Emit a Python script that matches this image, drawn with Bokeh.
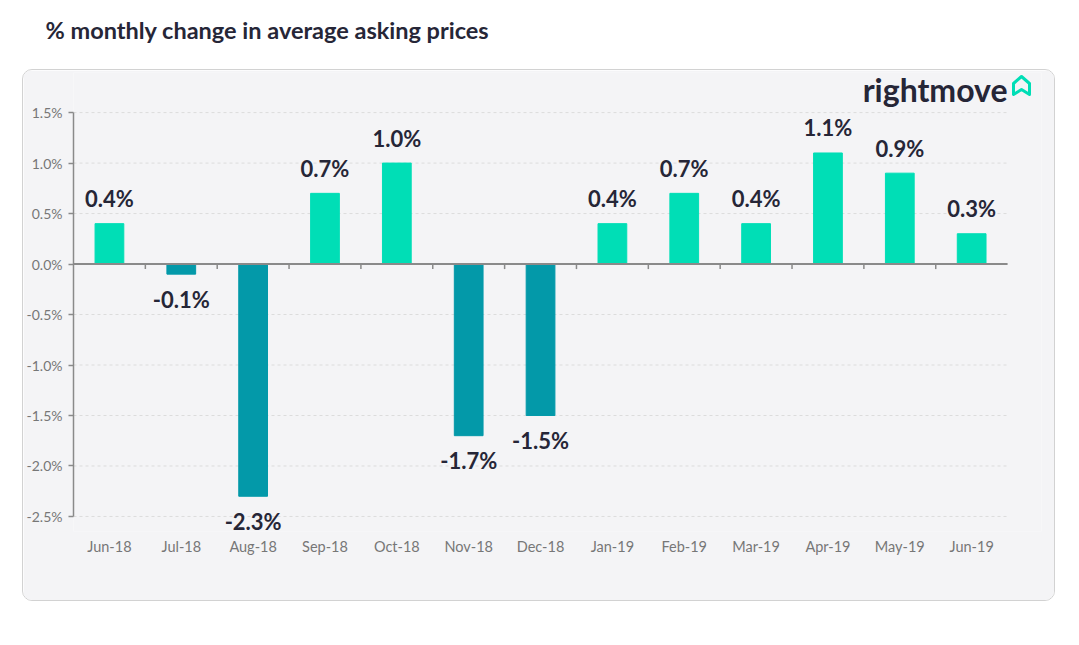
from bokeh.plotting import figure
from bokeh.layouts import column
from bokeh.models import (Range1d, FixedTicker, PrintfTickFormatter, Plot,
                          ColumnDataSource, LabelSet, Label, PolyAnnotation)
from bokeh.core.properties import value
from bokeh.embed import file_html
from bokeh.resources import INLINE

# ---- data ----
months = ["Jun-18", "Jul-18", "Aug-18", "Sep-18", "Oct-18", "Nov-18", "Dec-18",
          "Jan-19", "Feb-19", "Mar-19", "Apr-19", "May-19", "Jun-19"]
changes = [0.4, -0.1, -2.3, 0.7, 1.0, -1.7, -1.5, 0.4, 0.7, 0.4, 1.1, 0.9, 0.3]
y_ticks = [-2.5, -2.0, -1.5, -1.0, -0.5, 0.0, 0.5, 1.0, 1.5]
title_text = "% monthly change in average asking prices"
brand_text = "rightmove"

POS = "#00deb6"
NEG = "#0399a9"
DARK = "#262637"
GREY = "#8a8a8a"
CARD = "#f4f4f6"
FONT = "Lato"

n = len(months)
xs = list(range(n))
colors = [POS if v >= 0 else NEG for v in changes]
labels = [f"{v:.1f}%" for v in changes]
offsets = [25 if v >= 0 else -25 for v in changes]

src = ColumnDataSource(dict(x=xs, change=changes, color=colors,
                            label=labels, offset=offsets))

HAS_ALIGN = "frame_align" in Plot.properties()

# ---- title strip ----
t = figure(width=1063, height=69, x_range=Range1d(0, 1063), y_range=Range1d(0, 69),
           x_axis_location=None, y_axis_location=None, output_backend="svg",
           toolbar_location=None, min_border=0, min_border_left=0,
           min_border_right=0, min_border_top=0, min_border_bottom=0,
           outline_line_color=None,
           border_fill_color="white", background_fill_color="white")
t.xgrid.grid_line_color = None
t.ygrid.grid_line_color = None
if HAS_ALIGN:
    t.frame_align = False
t.add_layout(Label(x=45 if HAS_ALIGN else 0, y=40, x_units="screen", y_units="screen",
                   text=title_text, text_font=FONT, text_font_size="23.5px",
                   text_font_style="bold", text_color=DARK,
                   text_baseline="middle"))

# ---- card with chart ----
p = figure(width=1033, height=532, x_range=Range1d(-0.5, 12.972),
           y_range=Range1d(-2.649, 1.897), output_backend="svg",
           toolbar_location=None, min_border_left=50, min_border_right=15,
           min_border_top=2, min_border_bottom=71,
           border_fill_color=CARD, background_fill_color=CARD,
           outline_line_color=None, margin=(0, 0, 0, 22),
           styles={"border": "1px solid #d2d2d2", "border-radius": "10px",
                   "overflow": "hidden"})
if HAS_ALIGN:
    p.frame_align = False

p.xgrid.grid_line_color = None
p.ygrid.grid_line_color = None

# dashed gridlines across the category span
grid_y = [v for v in y_ticks if v != 0]
p.segment(x0=[-0.5] * len(grid_y), y0=grid_y, x1=[n - 0.5] * len(grid_y),
          y1=grid_y, line_color="#dcdcdc", line_width=1, line_dash="3 3")

p.vbar(x="x", top="change", width=0.4, color="color", source=src)

# zero line and category boundary ticks
p.segment(x0=[-0.5], y0=[0], x1=[n - 0.5], y1=[0], line_color=GREY, line_width=2)
bounds = [i + 0.5 for i in range(n - 1)]
p.segment(x0=bounds, y0=[0] * len(bounds), x1=bounds, y1=[-0.05] * len(bounds),
          line_color=GREY, line_width=1.5)

p.add_layout(LabelSet(x="x", y="change", text="label", y_offset="offset",
                      source=src, text_align="center", text_baseline="middle",
                      text_font=value(FONT), text_font_size="22px",
                      text_font_style="bold", text_color=DARK))

ya = p.yaxis[0]
ya.ticker = FixedTicker(ticks=y_ticks)
ya.formatter = PrintfTickFormatter(format="%.1f%%")
ya.bounds = (-2.5, 1.5)
ya.axis_line_color = GREY
ya.axis_line_width = 1.5
ya.major_tick_line_color = GREY
ya.major_tick_line_width = 1.5
ya.major_tick_out = 5
ya.major_tick_in = 0
ya.minor_tick_line_color = None
ya.major_label_standoff = 6
ya.major_label_text_color = "#777777"
ya.major_label_text_font = FONT
ya.major_label_text_font_size = "14px"

xa = p.xaxis[0]
xa.ticker = FixedTicker(ticks=xs)
xa.major_label_overrides = {i: m for i, m in zip(xs, months)}
xa.axis_line_color = None
xa.major_tick_line_color = None
xa.minor_tick_line_color = None
xa.major_tick_out = 0
xa.major_tick_in = 0
xa.major_label_standoff = 6
xa.major_label_text_color = "#777777"
xa.major_label_text_font = FONT
xa.major_label_text_font_size = "14.5px"

# brand
p.add_layout(Label(x=934, y=442, x_units="screen", y_units="screen",
                   text=brand_text, text_font=FONT, text_font_size="32px",
                   text_font_style="bold", text_color=DARK,
                   text_align="right", text_baseline="alphabetic"))
p.add_layout(PolyAnnotation(xs=[940, 940, 948, 956, 956, 948],
                            ys=[437, 448, 455, 448, 437, 442],
                            xs_units="screen", ys_units="screen",
                            fill_alpha=0, line_color=POS, line_alpha=1.0,
                            line_width=3, line_join="round"))

layout = column(t, p, spacing=0)
open("out.html", "w").write(file_html(layout, INLINE))
